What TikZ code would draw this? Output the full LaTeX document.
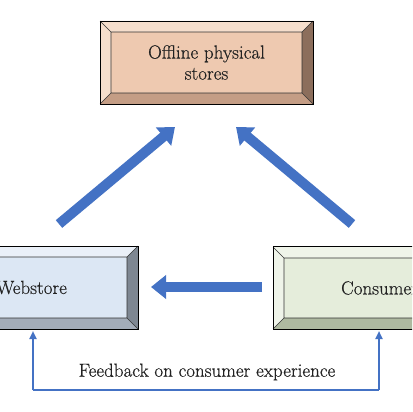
\documentclass[tikz,border=0pt]{standalone}
\usepackage{fontspec}
\setmainfont[FakeBold=0.4]{Latin Modern Roman}
\usetikzlibrary{arrows.meta}
\definecolor{bluearr}{HTML}{4472C4}
\definecolor{topface}{HTML}{EEC9B0}
\definecolor{toplight}{HTML}{F6DECC}
\definecolor{topright}{HTML}{8C6E5C}
\definecolor{topbottom}{HTML}{C49D85}
\definecolor{webface}{HTML}{DCE7F4}
\definecolor{weblight}{HTML}{EAF0F8}
\definecolor{webright}{HTML}{7E8792}
\definecolor{webbottom}{HTML}{A3ACB8}
\definecolor{conface}{HTML}{E5EDDB}
\definecolor{conlight}{HTML}{EFF4E9}
\definecolor{conright}{HTML}{848C78}
\definecolor{conbottom}{HTML}{AEB9A0}
\definecolor{txt}{HTML}{222222}
% #1 x1, #2 y1, #3 x2, #4 y2, #5 face, #6 light, #7 right, #8 bottom
\newcommand\bevelfill[8]{%
  \fill[#5] (#1,#2) rectangle (#3,#4);
  \fill[#6] (#1,#2) -- (#3,#2) -- ({#3-11},{#2+11}) -- ({#1+11},{#2+11}) -- cycle;
  \fill[#6] (#1,#2) -- ({#1+11},{#2+11}) -- ({#1+11},{#4-11}) -- (#1,#4) -- cycle;
  \fill[#7] (#3,#2) -- (#3,#4) -- ({#3-11},{#4-11}) -- ({#3-11},{#2+11}) -- cycle;
  \fill[#8] (#1,#4) -- (#3,#4) -- ({#3-11},{#4-11}) -- ({#1+11},{#4-11}) -- cycle;
  \draw[line width=0.6pt,black!80] ({#1+11},{#2+11}) rectangle ({#3-11},{#4-11})
     (#1,#2) -- ({#1+11},{#2+11}) (#3,#2) -- ({#3-11},{#2+11})
     (#1,#4) -- ({#1+11},{#4-11}) (#3,#4) -- ({#3-11},{#4-11});
}
\tikzset{
  boxnode/.style={draw=black, line width=0.8pt, minimum width=213pt, minimum height=83pt,
    inner sep=0pt, align=center, font=\fontsize{19}{21}\selectfont, text=txt},
  blockarrow/.style={bluearr, line width=10pt, -{Triangle[width=23pt,length=15pt]}},
  fbline/.style={bluearr, line width=2pt, -{Triangle[width=7pt,length=8pt]}},
}
\begin{document}
\begin{tikzpicture}[x=1pt,y=-1pt]
\useasboundingbox (0,0) rectangle (412,412);
\clip (0,0) rectangle (412,412);
\fill[white] (0,0) rectangle (412,412);
% boxes
\bevelfill{100}{21}{313}{104}{topface}{toplight}{topright}{topbottom}
\node[boxnode] (off) at (206.5,62.5) {Offline physical\\stores};
\bevelfill{-75}{246}{138}{329}{webface}{weblight}{webright}{webbottom}
\node[boxnode] (web) at (31.5,287.5) {Webstore};
\bevelfill{273}{247}{486}{329}{conface}{conlight}{conright}{conbottom}
\node[boxnode] (con) at (379.5,288) {Consumer};
% block arrows
\coordinate (a1s) at (59,224);
\coordinate (a1e) at (175,127);
\coordinate (a2s) at (352,224);
\coordinate (a2e) at (236,127);
\coordinate (a3s) at (262,287);
\coordinate (a3e) at (151,287);
\draw[blockarrow] (a1s) -- (a1e);
\draw[blockarrow] (a2s) -- (a2e);
\draw[blockarrow] (a3s) -- (a3e);
% feedback
\coordinate (fl) at (33,390);
\coordinate (fr) at (379,390);
\coordinate (flt) at (33,331);
\coordinate (frt) at (379,331);
\draw[fbline] (fl) -- (flt);
\draw[fbline] (fr) -- (frt);
\draw[bluearr, line width=2pt] (fl) -- (fr);
\node[font=\fontsize{19}{21}\selectfont, text=txt] (fb) at (207,372) {Feedback on consumer experience};
\end{tikzpicture}
\end{document}
